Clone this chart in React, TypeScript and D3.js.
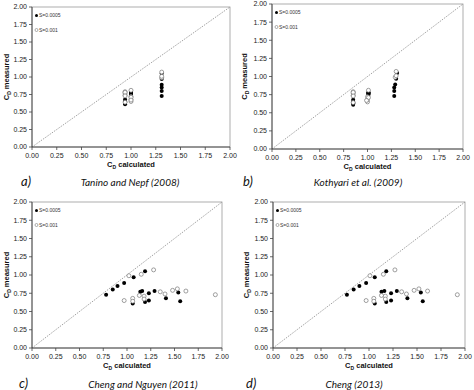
import React from 'react';
import * as d3 from 'd3';

const TICKS = [0, 0.25, 0.5, 0.75, 1.0, 1.25, 1.5, 1.75, 2.0];
const TICK_LABELS = ['0.00', '0.25', '0.50', '0.75', '1.00', '1.25', '1.50', '1.75', '2.00'];
const SERIES_NAMES = ['S=0.0005', 'S=0.001'];

// measured C_D (same in every panel)
const FILLED_Y = [0.73, 0.80, 0.85, 0.89, 0.97, 1.05, 0.77, 0.78, 0.75, 0.78, 0.68, 0.76, 0.64, 0.61, 0.63, 0.65];
const OPEN_Y = [0.99, 1.01, 1.07, 0.77, 0.74, 0.79, 0.81, 0.78, 0.73, 0.65, 0.68, 0.64, 0.72, 0.71, 0.67];

// calculated C_D for each panel
const A_FILLED_X = [1.31, 1.31, 1.31, 1.31, 1.31, 1.31, 1.00, 1.00, 1.00, 1.00, 0.94, 1.00, 0.94, 0.94, 0.94, 0.94];
const A_OPEN_X = [1.31, 1.31, 1.31, 0.94, 0.94, 0.94, 1.00, 0.94, 0.94, 1.00, 1.00, 0.94, 1.00, 1.00, 1.00];
const B_FILLED_X = [1.28, 1.28, 1.28, 1.29, 1.30, 1.31, 1.01, 1.01, 1.01, 1.01, 0.85, 1.01, 0.85, 0.85, 0.85, 0.85];
const B_OPEN_X = [1.29, 1.30, 1.30, 0.85, 0.85, 0.85, 1.01, 0.85, 0.85, 1.00, 1.00, 0.85, 1.00, 1.01, 0.99];
const C_FILLED_X = [0.78, 0.85, 0.90, 0.97, 1.07, 1.19, 1.14, 1.16, 1.23, 1.29, 1.41, 1.54, 1.56, 1.06, 1.19, 1.23];
const C_OPEN_X = [1.02, 1.15, 1.28, 1.35, 1.40, 1.48, 1.53, 1.62, 1.93, 0.97, 1.06, 1.06, 1.13, 1.18, 1.18];
const D_FILLED_X = [0.77, 0.84, 0.90, 0.97, 1.06, 1.18, 1.13, 1.16, 1.23, 1.29, 1.40, 1.54, 1.56, 1.06, 1.18, 1.23];
const D_OPEN_X = [1.01, 1.15, 1.27, 1.34, 1.39, 1.47, 1.52, 1.61, 1.92, 0.97, 1.05, 1.05, 1.13, 1.17, 1.17];

const LETTERS = ['a)', 'b)', 'c)', 'd)'];
const CAPTIONS = ['Tanino and Nepf (2008)', 'Kothyari et al. (2009)', 'Cheng and Nguyen (2011)', 'Cheng (2013)'];

type PanelProps = {
  x0: number; x1: number; y0: number; y1: number;
  fx: number[]; ox: number[];
  titleX: number; letterX: number; capX: number; capY: number;
  letter: string; caption: string;
};

const FONT = '"Liberation Sans", Arial, sans-serif';

function Panel(p: PanelProps) {
  const x = d3.scaleLinear().domain([0, 2]).range([p.x0, p.x1]);
  const y = d3.scaleLinear().domain([0, 2]).range([p.y1, p.y0]);
  const cy = (p.y0 + p.y1) / 2;
  const cx = (p.x0 + p.x1) / 2;
  return (
    <g fontFamily={FONT}>
      <rect x={p.x0} y={p.y0} width={p.x1 - p.x0} height={p.y1 - p.y0} fill="none" stroke="#9a9a9a" strokeWidth={0.8} />
      <line x1={x(0)} y1={y(0)} x2={x(2)} y2={y(2)} stroke="#8a8a8a" strokeWidth={0.8} strokeDasharray="1.5,1.2" />
      <line x1={p.x0} y1={p.y0} x2={p.x0} y2={p.y1} stroke="#444" strokeWidth={0.9} />
      <line x1={p.x0} y1={p.y1} x2={p.x1} y2={p.y1} stroke="#444" strokeWidth={0.9} />
      {TICKS.map((t, i) => (
        <g key={'t' + i}>
          <line x1={p.x0 - 3} x2={p.x0} y1={y(t)} y2={y(t)} stroke="#444" strokeWidth={0.8} />
          <text x={p.x0 - 5} y={y(t) + 2.4} fontSize={7} textAnchor="end" fill="#222">{TICK_LABELS[i]}</text>
          <line x1={x(t)} x2={x(t)} y1={p.y1} y2={p.y1 + 3} stroke="#444" strokeWidth={0.8} />
          <text x={x(t)} y={p.y1 + 10.5} fontSize={7} textAnchor="middle" fill="#222">{TICK_LABELS[i]}</text>
        </g>
      ))}
      <text x={cx} y={p.y1 + 20} fontSize={7.5} fontWeight="bold" textAnchor="middle" fill="#111">
        C<tspan fontSize={5} dy={1.8}>D</tspan><tspan dy={-1.8}> calculated</tspan>
      </text>
      <text transform={`translate(${p.titleX},${cy}) rotate(-90)`} fontSize={7.5} fontWeight="bold" textAnchor="middle" fill="#111">
        C<tspan fontSize={5} dy={1.8}>D</tspan><tspan dy={-1.8}> measured</tspan>
      </text>
      {FILLED_Y.map((v, i) => (
        <circle key={'f' + i} cx={x(p.fx[i])} cy={y(v)} r={2} fill="#000" />
      ))}
      {OPEN_Y.map((v, i) => (
        <circle key={'o' + i} cx={x(p.ox[i])} cy={y(v)} r={2} fill="#fff" stroke="#777" strokeWidth={0.7} />
      ))}
      <circle cx={p.x0 + 4.5} cy={p.y0 + 8.5} r={1.5} fill="#000" />
      <text x={p.x0 + 7} y={p.y0 + 10.3} fontSize={5} fill="#333">{SERIES_NAMES[0]}</text>
      <circle cx={p.x0 + 4.5} cy={p.y0 + 23} r={1.5} fill="#fff" stroke="#777" strokeWidth={0.6} />
      <text x={p.x0 + 7} y={p.y0 + 24.8} fontSize={5} fill="#333">{SERIES_NAMES[1]}</text>
      <text x={p.letterX} y={p.capY} fontSize={13} fontStyle="italic" fontFamily="Lato, sans-serif" fill="#111">{p.letter}</text>
      <text x={p.capX} y={p.capY} fontSize={10} fontStyle="italic" fontFamily="Lato, sans-serif" textAnchor="middle" fill="#111">{p.caption}</text>
    </g>
  );
}

export default function App() {
  return (
    <div style={{ position: 'absolute', left: 0, top: 0 }}>
      <svg width={474} height={390} viewBox="0 0 474 390" style={{ display: 'block', background: '#fff' }}>
        <rect width={474} height={390} fill="#fff" />
        <Panel x0={32} x1={230} y0={7} y1={147} fx={A_FILLED_X} ox={A_OPEN_X} titleX={9} letterX={21} capX={130} capY={186} letter={LETTERS[0]} caption={CAPTIONS[0]} />
        <Panel x0={272} x1={463} y0={4} y1={149} fx={B_FILLED_X} ox={B_OPEN_X} titleX={247} letterX={243} capX={358} capY={186} letter={LETTERS[1]} caption={CAPTIONS[1]} />
        <Panel x0={32} x1={222} y0={202} y1={348} fx={C_FILLED_X} ox={C_OPEN_X} titleX={9} letterX={19} capX={143} capY={388} letter={LETTERS[2]} caption={CAPTIONS[2]} />
        <Panel x0={273} x1={465} y0={202} y1={348} fx={D_FILLED_X} ox={D_OPEN_X} titleX={249} letterX={246} capX={354} capY={388} letter={LETTERS[3]} caption={CAPTIONS[3]} />
      </svg>
    </div>
  );
}
